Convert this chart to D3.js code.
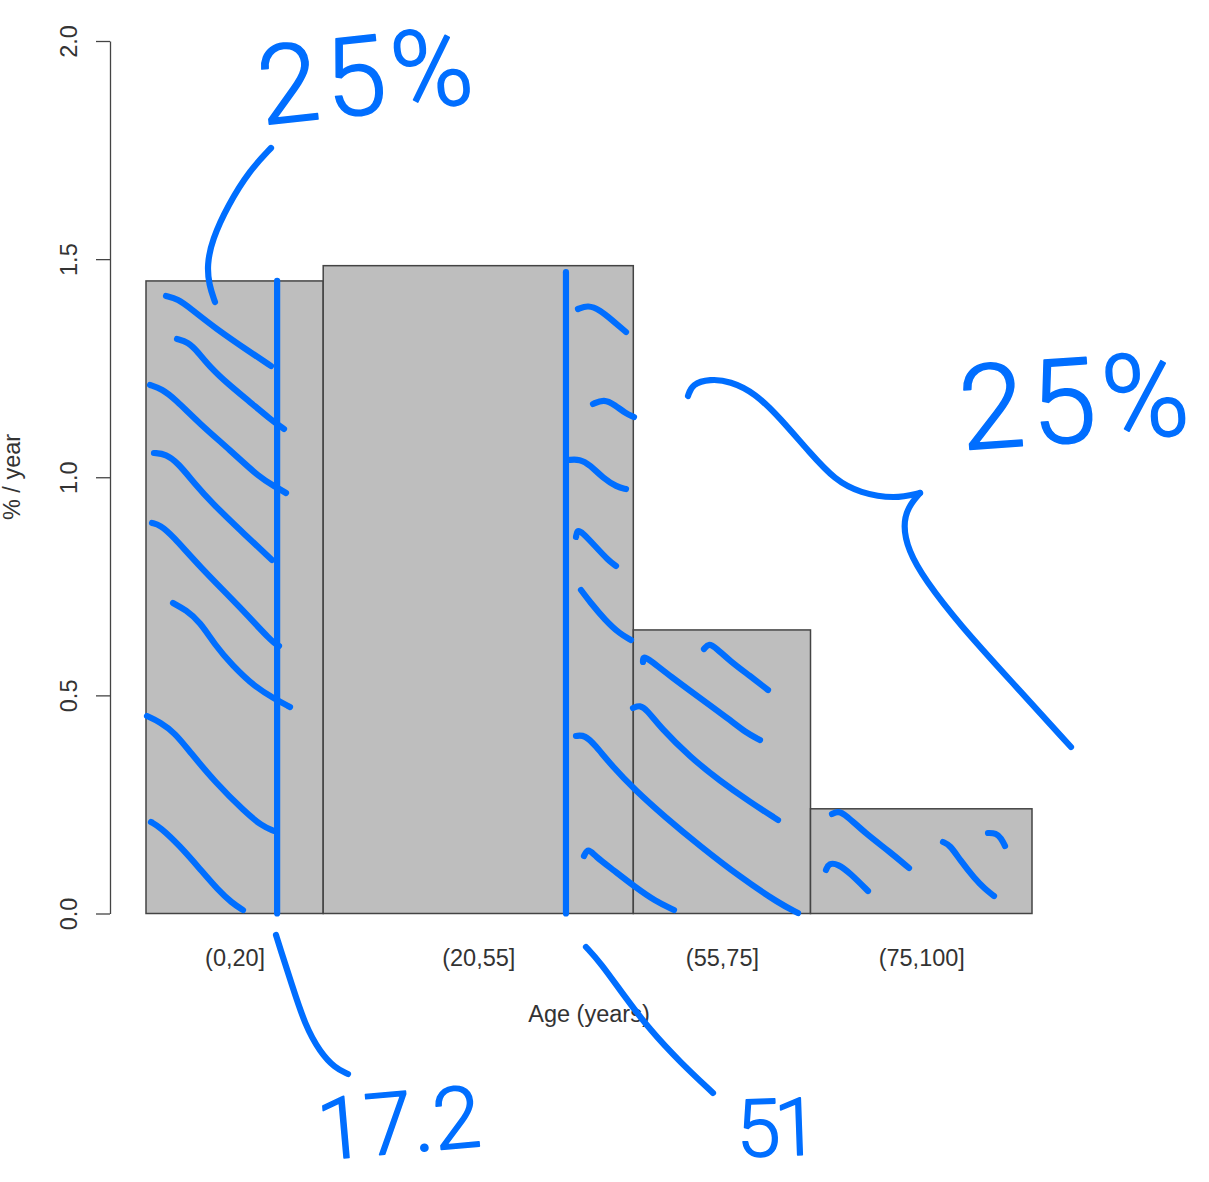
<!DOCTYPE html>
<html lang="en">
<head>
    <meta charset="UTF-8">
    <title>Age histogram with notes</title>
    <script src="https://cdn.jsdelivr.net/npm/d3@7/dist/d3.min.js"></script>

    <style>
        html, body {
            margin: 0;
            background: #fff;
        }

        svg {
            display: block;
        }

        .bar {
            fill: #bebebe;
            stroke: #444;
            stroke-width: 1.5;
        }

        .axis text, .title {
            font-family: "Liberation Sans", Arial, sans-serif;
            font-size: 23.5px;
            fill: #333;
        }

        .axis path, .axis line {
            stroke: #444;
            stroke-width: 1.3;
        }

        .ink {
            fill: none;
            stroke: #006eff;
            stroke-width: 6.2;
            stroke-linecap: round;
            stroke-linejoin: round;
        }

        .note {
            font-family: Roboto, "Liberation Sans", sans-serif;
            font-weight: 300;
            fill: #006eff;
            stroke: #006eff;
            stroke-width: 1.5;
            stroke-linejoin: round;
        }
    </style>
</head>
<body>

<div id="chartArea"></div>

<script>
    'use strict';

    /*
     * Histogram with unequal age bands, plus the blue pen notes on top of it.
     */

    const ageBreaks = [0, 20, 55, 75, 100];
    const bandLabels = ['(0,20]', '(20,55]', '(55,75]', '(75,100]'];
    const ratePerYear = [1.45, 1.485, 0.65, 0.24];
    const rateTicks = [0, 0.5, 1, 1.5, 2];

    // The two pen lines that cut off the quartiles: age, top of line in %/year.
    const quartileAges = [14.8, 47.4];
    const quartileTops = [1.45, 1.47];

    const noteLabels = ['25%', '25%', '17.2', '51'];

    // Freehand pen strokes, measured on the sheet (0-1209 across, 0-1182 down).
    const hatchLeft = [
        [[166, 296], [178, 299], [190, 308], [215, 328], [250, 352], [271, 366]],
        [[177, 339], [188, 342], [198, 352], [210, 367], [228, 384], [250, 402], [270, 419], [284, 429]],
        [[150, 385], [162, 389], [175, 399], [200, 424], [230, 450], [260, 478], [276, 487], [286, 493]],
        [[154, 453], [166, 454], [178, 463], [195, 484], [212, 503], [240, 530], [272, 560]],
        [[152, 523], [160, 525], [172, 535], [200, 567], [240, 607], [272, 642], [279, 646]],
        [[173, 603], [186, 610], [200, 622], [215, 645], [232, 665], [255, 687], [275, 699], [290, 707]],
        [[147, 716], [160, 722], [175, 733], [190, 752], [215, 782], [245, 812], [262, 826], [274, 831]],
        [[151, 822], [160, 827], [180, 846], [200, 869], [218, 890], [232, 903], [243, 910]]
    ];
    const hatchRight = [
        [[578, 309], [588, 305], [600, 310], [612, 320], [626, 332]],
        [[593, 404], [604, 399], [615, 405], [625, 413], [634, 417]],
        [[568, 460], [580, 459], [590, 465], [603, 478], [617, 487], [626, 489]],
        [[576, 537], [577, 530], [582, 532], [595, 546], [608, 560], [616, 566]],
        [[581, 590], [590, 602], [605, 620], [620, 634], [631, 640]],
        [[576, 736], [585, 735], [595, 745], [612, 766], [635, 790], [665, 817], [700, 846], [740, 877], [780, 904], [798, 913]],
        [[584, 856], [588, 848], [595, 856], [612, 869], [635, 887], [655, 901], [674, 910]],
        [[633, 708], [640, 705], [647, 710], [660, 727], [690, 757], [720, 781], [750, 802], [778, 820]],
        [[643, 662], [643, 656], [650, 660], [670, 676], [700, 698], [730, 720], [745, 732], [760, 740]],
        [[704, 649], [709, 643], [716, 648], [730, 661], [750, 676], [768, 690]],
        [[832, 814], [838, 811], [846, 815], [865, 833], [890, 852], [909, 868]],
        [[826, 870], [829, 863], [838, 864], [850, 873], [868, 891]],
        [[943, 842], [950, 845], [960, 860], [975, 879], [985, 889], [994, 896]],
        [[988, 833], [996, 833], [1001, 838], [1005, 846]]
    ];
    const callouts = [
        [[271, 148], [250, 170], [228, 205], [212, 240], [207, 265], [209, 285], [215, 302]],
        [[688, 396], [692, 384], [710, 379], [730, 381], [755, 393], [780, 418], [810, 453], [835, 480], [860, 493], [895, 499], [920, 493]],
        [[920, 493], [908, 507], [903, 525], [908, 550], [925, 580], [960, 625], [1010, 680], [1071, 747]],
        [[276, 935], [280, 948], [292, 985], [305, 1025], [320, 1052], [335, 1068], [348, 1074]],
        [[586, 947], [600, 962], [625, 997], [650, 1030], [680, 1062], [713, 1093]]
    ];

    const width = 1209;
    const height = 1182;

    const svg = d3.select('#chartArea').append('svg').attr('width', width).attr('height', height);

    const x = d3.scaleLinear().domain([0, 100]).range([146, 1032]);
    const y = d3.scaleLinear().domain([0, 2]).range([913.5, 41]);

    const sheetX = d3.scaleLinear().domain([0, 1209]).range([0, width]);
    const sheetY = d3.scaleLinear().domain([0, 1182]).range([0, height]);

    svg.selectAll('rect.bar').data(ratePerYear).enter().append('rect')
        .classed('bar', true)
        .attr('x', function(d, i) { return x(ageBreaks[i]); })
        .attr('y', function(d) { return y(d); })
        .attr('width', function(d, i) { return x(ageBreaks[i + 1]) - x(ageBreaks[i]); })
        .attr('height', function(d) { return y(0) - y(d); });

    // Left axis, R style: labels turned sideways.
    const yAxis = svg.append('g').attr('class', 'axis').attr('transform', 'translate(110,0)')
        .call(d3.axisLeft(y).tickValues(rateTicks).tickFormat(d3.format('.1f')).tickSize(14).tickSizeOuter(0));
    yAxis.selectAll('text')
        .attr('x', null).attr('dy', null)
        .attr('text-anchor', 'middle')
        .attr('transform', 'translate(-33,0) rotate(-90)');

    // Band names sit under the middle of each bar.
    const bandMids = ageBreaks.slice(1).map(function(d, i) { return (d + ageBreaks[i]) / 2; });
    const xAxis = svg.append('g').attr('class', 'axis').attr('transform', 'translate(0,913)')
        .call(d3.axisBottom(x).tickValues(bandMids).tickFormat(function(d, i) { return bandLabels[i]; }).tickSize(0).tickPadding(53));
    xAxis.select('.domain').remove();
    xAxis.selectAll('text').attr('dy', null);

    svg.append('text').attr('class', 'title')
        .attr('x', 589).attr('y', 1022).attr('text-anchor', 'middle')
        .text('Age (years)');
    svg.append('text').attr('class', 'title')
        .attr('text-anchor', 'middle')
        .attr('transform', 'translate(20,477) rotate(-90)')
        .text('% / year');

    // Pen layer.
    const pen = d3.line()
        .x(function(d) { return sheetX(d[0]); })
        .y(function(d) { return sheetY(d[1]); })
        .curve(d3.curveBasis);

    svg.selectAll('path.ink').data(hatchLeft.concat(hatchRight, callouts)).enter().append('path')
        .classed('ink', true)
        .attr('d', pen);

    svg.selectAll('line.ink').data(quartileAges).enter().append('line')
        .classed('ink', true)
        .attr('x1', function(d) { return x(d); })
        .attr('x2', function(d) { return x(d); })
        .attr('y1', function(d, i) { return y(quartileTops[i]); })
        .attr('y2', y(0));

    const notePlaces = [
        { x: 262, y: 125, size: 110, angle: -6, spacing: 6 },
        { x: 962, y: 450, size: 118, angle: -4, spacing: 6 },
        { x: 320, y: 1160, size: 86, angle: -5, spacing: 0 },
        { x: 737, y: 1157, size: 80, angle: -2, spacing: -6 }
    ];

    svg.selectAll('text.note').data(noteLabels).enter().append('text')
        .classed('note', true)
        .attr('font-size', function(d, i) { return notePlaces[i].size; })
        .attr('letter-spacing', function(d, i) { return notePlaces[i].spacing; })
        .attr('transform', function(d, i) {
            const p = notePlaces[i];
            return 'translate(' + sheetX(p.x) + ',' + sheetY(p.y) + ') rotate(' + p.angle + ')';
        })
        .text(function(d) { return d; });
</script>

</body>
</html>
